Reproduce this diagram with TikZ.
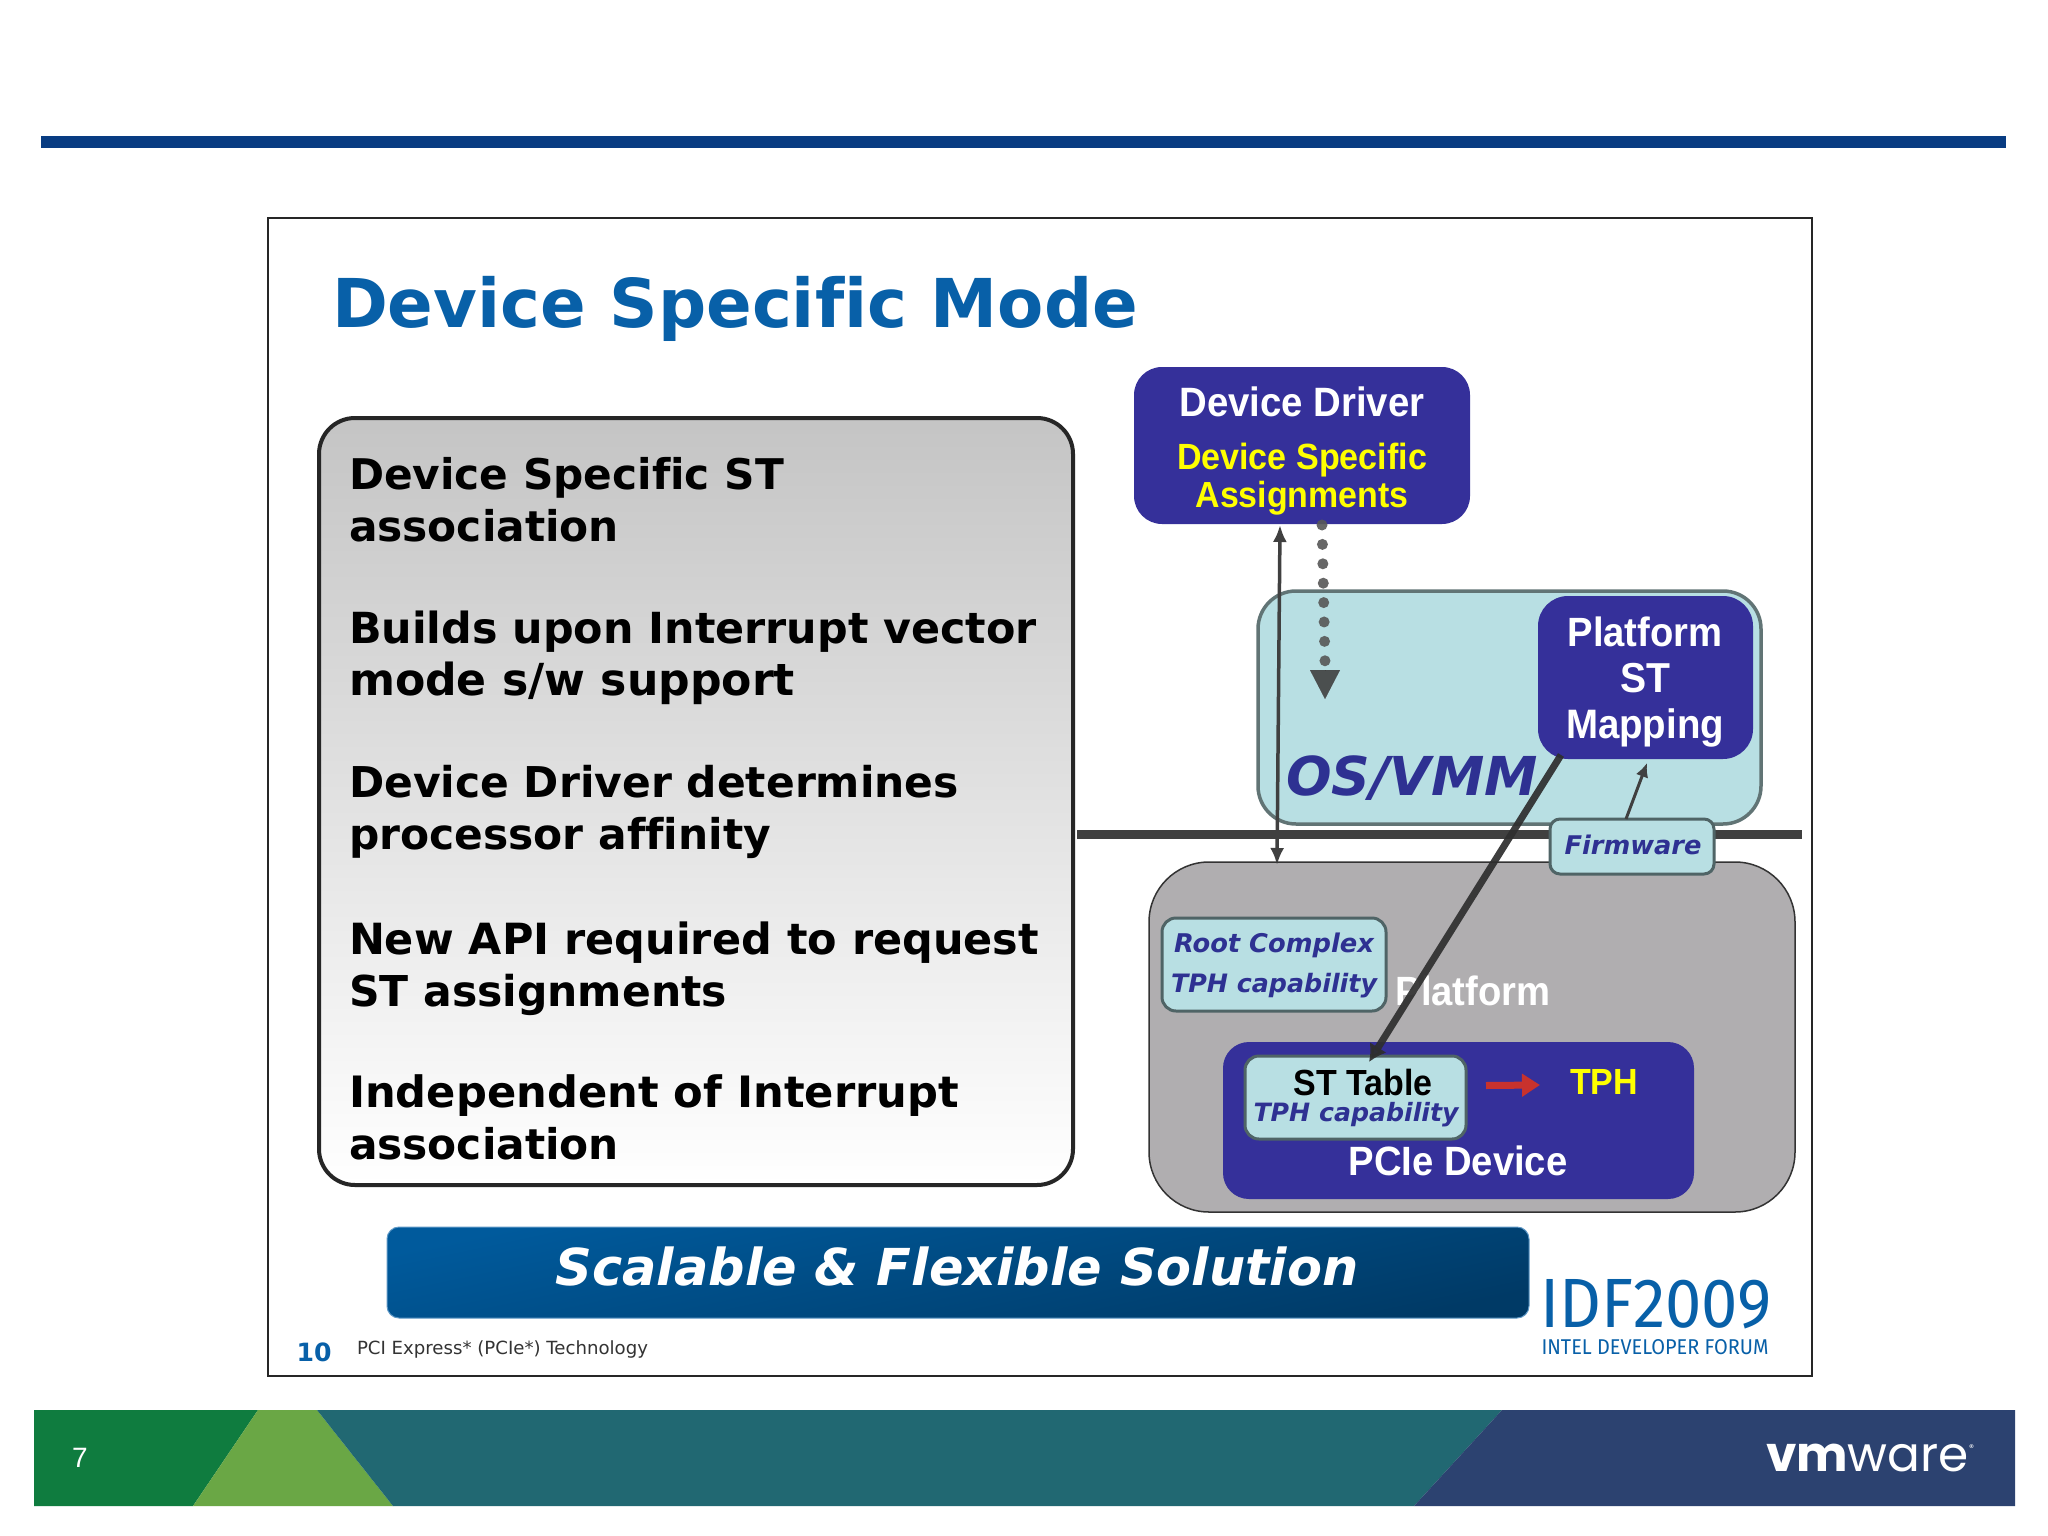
\documentclass[tikz,border=0pt]{standalone}
\usepackage{fontspec}
\usepackage{graphicx}
\setmainfont{Liberation Sans}
\newfontfamily\verd[Ligatures=NoCommon]{DejaVu Sans}
\usetikzlibrary{arrows.meta,calc}
\definecolor{boxblue}{HTML}{35309A}
\definecolor{lightteal}{HTML}{B8DFE3}
\definecolor{tealedge}{HTML}{4F6466}
\definecolor{titleblue}{HTML}{0860A8}
\definecolor{headblue}{HTML}{083C82}
\definecolor{itblue}{HTML}{2E3192}
\definecolor{platgrey}{HTML}{B0AEB0}
\definecolor{dark}{HTML}{404040}
\definecolor{yel}{HTML}{FFFF00}
\definecolor{bantop}{HTML}{005A9C}
\definecolor{banbot}{HTML}{003A66}
\newcommand{\fsz}[1]{\fontsize{#1}{#1}\selectfont}
\newcommand{\fw}[2]{\resizebox{#1pt}{!}{#2}}
\newcommand{\fwy}[2]{\scalebox{1}[1.07]{\resizebox{#1pt}{!}{#2}}}
\tikzset{
  bx/.style 2 args={minimum width=#1pt,minimum height=#2pt,inner sep=0pt,outer sep=0pt},
  bluebox/.style={fill=boxblue,draw=none},
  tealbox/.style={fill=lightteal,draw=tealedge,line width=3pt},
  txt/.style={inner sep=0pt,outer sep=0pt,align=center},
  lefttxt/.style={inner sep=0pt,outer sep=0pt,align=left,anchor=base west,text=black,font=\verd\bfseries},
  hd/.style={txt,text=white,font=\bfseries},
  yl/.style={txt,text=yel,font=\bfseries},
  ib/.style={txt,text=itblue,font=\verd\bfseries\itshape},
}
\begin{document}
\begin{tikzpicture}[x=1pt,y=-1pt]
\useasboundingbox (0,0) rectangle (2048,1536);
\fill[white] (0,0) rectangle (2048,1536);
% header rule
\fill[fill=headblue] (41,136) rectangle (2006,148);
% footer band
\fill[fill={rgb,255:red,15;green,124;blue,63}] (34,1410) -- (258,1410) -- (193,1506) -- (34,1506) -- cycle;
\fill[fill={rgb,255:red,106;green,167;blue,69}] (258,1410) -- (317,1410) -- (393,1506) -- (193,1506) -- cycle;
\fill[fill={rgb,255:red,33;green,104;blue,114}] (317,1410) -- (1502,1410) -- (1414,1506) -- (393,1506) -- cycle;
\fill[fill={rgb,255:red,44;green,66;blue,112}] (1502,1410) -- (2015,1410) -- (2015,1506) -- (1414,1506) -- cycle;
\node[txt,text=white,font=\fsz{28}] (pageno) at (80,1458) {7};
\node[txt,text=white,anchor=base west] (vmw) at (1766,1471) {\fw{208}{\fontspec{Poppins}\fsz{60}\bfseries vm\mdseries ware\raisebox{24pt}{\fsz{12}®}}};
% slide frame
\draw[line width=1.5pt,draw=black!85] (268,218) rectangle (1812,1376);
\node[txt,anchor=base west,text=titleblue,font=\verd\bfseries] (title) at (332,327) {\fw{806}{\fsz{64}Device Specific Mode}};
% left panel
\node[bx={754}{767},rounded corners=36pt,draw=black!85,line width=4pt,top color=black!23,middle color=black!14,bottom color=white] (panel) at (696,801.5) {};
\node[lefttxt] (l1) at (349,489) {\fw{435}{\fsz{36}Device Specific ST}};
\node[lefttxt] (l1b) at (349,541) {\fw{270}{\fsz{36}association}};
\node[lefttxt] (l2) at (349,643) {\fw{688}{\fsz{36}Builds upon Interrupt vector}};
\node[lefttxt] (l2b) at (349,695) {\fw{446}{\fsz{36}mode s/w support}};
\node[lefttxt] (l3) at (349,797) {\fw{610}{\fsz{36}Device Driver determines}};
\node[lefttxt] (l3b) at (349,849) {\fw{422}{\fsz{36}processor affinity}};
\node[lefttxt] (l4) at (349,954) {\fw{690}{\fsz{36}New API required to request}};
\node[lefttxt] (l4b) at (349,1006) {\fw{378}{\fsz{36}ST assignments}};
\node[lefttxt] (l5) at (349,1107) {\fw{610}{\fsz{36}Independent of Interrupt}};
\node[lefttxt] (l5b) at (349,1159) {\fw{270}{\fsz{36}association}};
% banner
\node[bx={1142}{91},rounded corners=12pt,draw=titleblue!65,line width=1pt,top color=bantop,bottom color=banbot,shading angle=12] (banner) at (958,1272.5) {};
\node[txt,text=white,font=\verd\bfseries\itshape] (bannertxt) at (957,1267) {\fw{803}{\fsz{52}Scalable \& Flexible Solution}};
% footer of slide
\node[txt,text=titleblue,font=\verd\bfseries] (num) at (314,1352) {\fw{35}{\fsz{26}10}};
\node[txt,anchor=west,text=black!80,font=\verd] (foot) at (357,1349) {\fw{291}{\fsz{18}PCI Express* (PCIe*) Technology}};
\node[txt,text=titleblue] (idf) at (1656,1304) {\resizebox{231pt}{48pt}{\fontspec{Fira Sans}IDF2009}};
\node[txt,text=titleblue] (forum) at (1655,1347) {\resizebox{227pt}{15pt}{\fontspec{Fira Sans}INTEL DEVELOPER FORUM}};
% horizontal divider
\coordinate (hl) at (1077,834.5);
\coordinate (hr) at (1802,834.5);
\draw[line width=9pt,draw=dark] (hl) -- (hr);
% boxes
\node[bx={336}{157},bluebox,rounded corners=28pt] (dd) at (1302,445.5) {};
\node[bx={503}{233},fill=lightteal,draw=tealedge!90,line width=3.5pt,rounded corners=38pt] (os) at (1509.5,707.5) {};
\node[bx={215}{163},bluebox,rounded corners=30pt] (pst) at (1645.5,677.5) {};
\node[bx={646}{350},fill=platgrey,draw=black!80,line width=1.5pt,rounded corners=60pt] (plat) at (1472,1037) {};
\node[bx={164}{55},tealbox,rounded corners=10pt] (fw) at (1632,846.5) {};
\node[txt,text=white,font=\bfseries] (plattxt) at (1473,991) {\fwy{155}{\fsz{40}Platform}};
\node[bx={224}{93},tealbox,rounded corners=14pt] (rc) at (1274,964.5) {};
\node[bx={471}{157},bluebox,rounded corners=26pt] (pcie) at (1458.5,1120.5) {};
\node[bx={221}{83},tealbox,rounded corners=14pt] (st) at (1355.5,1097.5) {};
% box texts
\node[hd] (ddt) at (1302,402) {\fwy{245}{\fsz{38}Device Driver}};
\node[yl] (ddy1) at (1302,460) {\fwy{250}{\fsz{36}Device Specific}};
\node[yl] (ddy2) at (1302,498) {\fwy{213}{\fsz{36}Assignments}};
\node[hd] (p1) at (1645,632) {\fwy{155}{\fsz{40}Platform}};
\node[hd] (p2) at (1645,678) {\fwy{50}{\fsz{40}ST}};
\node[hd] (p3) at (1645,728) {\fwy{158}{\fsz{40}Mapping}};
\node[ib] (osvmm) at (1412,778) {\fw{252}{\fsz{52}OS/VMM}};
\node[ib] (fwt) at (1633,845) {\fw{137}{\fsz{26}Firmware}};
\node[ib] (rc1) at (1274,945) {\fw{200}{\fsz{26}Root Complex}};
\node[ib] (rc2) at (1274,986) {\fw{206}{\fsz{26}TPH capability}};
\node[txt,text=black,font=\bfseries] (stt) at (1363,1082) {\fwy{139}{\fsz{34}ST Table}};
\node[ib] (st2) at (1356,1115) {\fw{205}{\fsz{26}TPH capability}};
\node[yl] (tph) at (1604,1082) {\fwy{68}{\fsz{34}TPH}};
\node[hd] (pct) at (1458,1161) {\fwy{219}{\fsz{38}PCIe Device}};
% connectors
\draw[line width=3.5pt,draw=dark,{Latex[length=17pt,width=14pt]}-{Latex[length=17pt,width=14pt]}] ([shift={(146,1)}]dd.south west) -- ([shift={(128,3)}]plat.north west);
\coordinate (dotend) at (1325,662);
\coordinate (tipbase) at (1325,670);
\coordinate (tiptip) at (1325,699);
\draw[line width=11pt,draw=black!66,opacity=.9,line cap=round,dash pattern=on 0pt off 19.4pt] ([shift={(20,1)}]dd.south) -- (dotend);
\draw[line width=0.1pt,draw=dark,fill=dark,opacity=.9,-{Triangle[length=29pt,width=30pt]}] (tipbase) -- (tiptip);
\draw[line width=7pt,draw=black!82,opacity=.92,-{Latex[length=17pt,width=20pt]}] ([shift={(23,-4)}]pst.south west) -- ([shift={(124,6)}]st.north west);
\draw[line width=3pt,draw=dark,-{Latex[length=14pt,width=13pt]}] ([shift={(-6,0)}]fw.north) -- ([shift={(1.5,4)}]pst.south);
\draw[line width=7pt,draw={rgb,255:red,200;green,50;blue,45},-{Triangle[length=18pt,width=22pt]}] ([shift={(20,-12)}]st.east) -- ([shift={(-30,3)}]tph.west);
\end{tikzpicture}
\end{document}
